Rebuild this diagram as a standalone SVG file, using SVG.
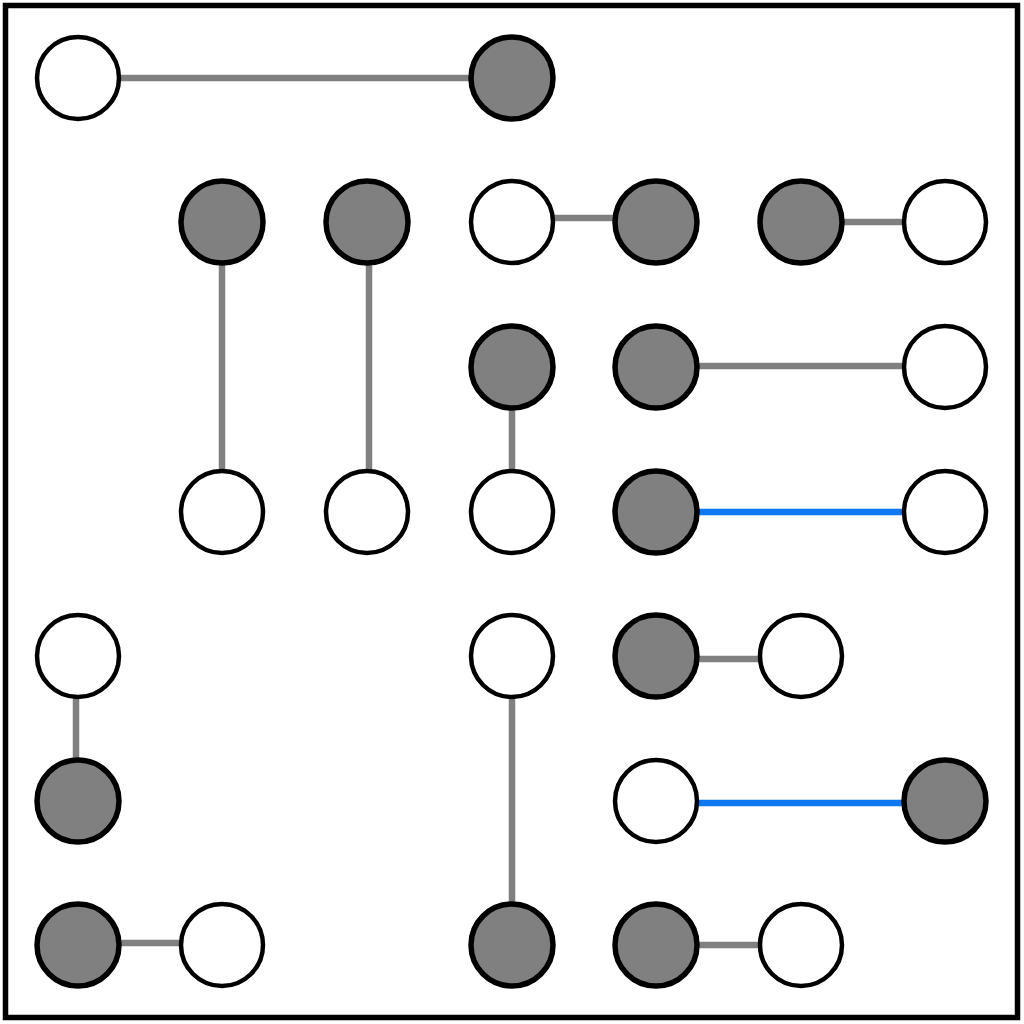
<svg xmlns="http://www.w3.org/2000/svg" width="1024" height="1024" viewBox="0 0 1024 1024">
<style>
.e{stroke:#808080;stroke-width:6.5;fill:none}
.b{stroke:#0f77f0;stroke-width:6.5;fill:none}
.w{fill:#fff;stroke:#000;stroke-width:4.5}
.g{fill:#808080;stroke:#000;stroke-width:5.5}
</style>
<rect x="5.5" y="5.5" width="1012" height="1012" fill="#fff" stroke="#000" stroke-width="5.5"/>
<g id="connectors">
<line class="e" x1="78" y1="78" x2="511" y2="78"/>
<line class="e" x1="222" y1="222" x2="222" y2="511"/>
<line class="e" x1="369" y1="222" x2="369" y2="511"/>
<line class="e" x1="511" y1="218" x2="656" y2="218"/>
<line class="e" x1="800" y1="222" x2="945" y2="222"/>
<line class="e" x1="512" y1="367" x2="512" y2="511"/>
<line class="e" x1="656" y1="366" x2="945" y2="366"/>
<line class="b" x1="656" y1="512" x2="945" y2="512"/>
<line class="e" x1="76" y1="656" x2="76" y2="801"/>
<line class="e" x1="512" y1="656" x2="512" y2="945"/>
<line class="e" x1="656" y1="659" x2="800" y2="659"/>
<line class="b" x1="656" y1="803" x2="945" y2="803"/>
<line class="e" x1="78" y1="943" x2="222" y2="943"/>
<line class="e" x1="656" y1="945" x2="800" y2="945"/>
</g>
<g id="n1"><circle class="w" cx="78" cy="78" r="41"/></g>
<g id="n2"><circle class="g" cx="512" cy="78" r="41"/></g>
<g id="n3"><circle class="g" cx="222" cy="222" r="41"/></g>
<g id="n4"><circle class="g" cx="367" cy="222" r="41"/></g>
<g id="n5"><circle class="w" cx="512" cy="222" r="41"/></g>
<g id="n6"><circle class="g" cx="656" cy="222" r="41"/></g>
<g id="n7"><circle class="g" cx="801" cy="222" r="41"/></g>
<g id="n8"><circle class="w" cx="945" cy="222" r="41"/></g>
<g id="n9"><circle class="g" cx="512" cy="367" r="41"/></g>
<g id="n10"><circle class="g" cx="656" cy="367" r="41"/></g>
<g id="n11"><circle class="w" cx="945" cy="367" r="41"/></g>
<g id="n12"><circle class="w" cx="222" cy="512" r="41"/></g>
<g id="n13"><circle class="w" cx="367" cy="512" r="41"/></g>
<g id="n14"><circle class="w" cx="512" cy="512" r="41"/></g>
<g id="n15"><circle class="g" cx="656" cy="512" r="41"/></g>
<g id="n16"><circle class="w" cx="945" cy="512" r="41"/></g>
<g id="n17"><circle class="w" cx="78" cy="656" r="41"/></g>
<g id="n18"><circle class="w" cx="512" cy="656" r="41"/></g>
<g id="n19"><circle class="g" cx="656" cy="656" r="41"/></g>
<g id="n20"><circle class="w" cx="801" cy="656" r="41"/></g>
<g id="n21"><circle class="g" cx="78" cy="801" r="41"/></g>
<g id="n22"><circle class="w" cx="656" cy="801" r="41"/></g>
<g id="n23"><circle class="g" cx="945" cy="801" r="41"/></g>
<g id="n24"><circle class="g" cx="78" cy="945" r="41"/></g>
<g id="n25"><circle class="w" cx="222" cy="945" r="41"/></g>
<g id="n26"><circle class="g" cx="512" cy="945" r="41"/></g>
<g id="n27"><circle class="g" cx="656" cy="945" r="41"/></g>
<g id="n28"><circle class="w" cx="801" cy="945" r="41"/></g>
</svg>
